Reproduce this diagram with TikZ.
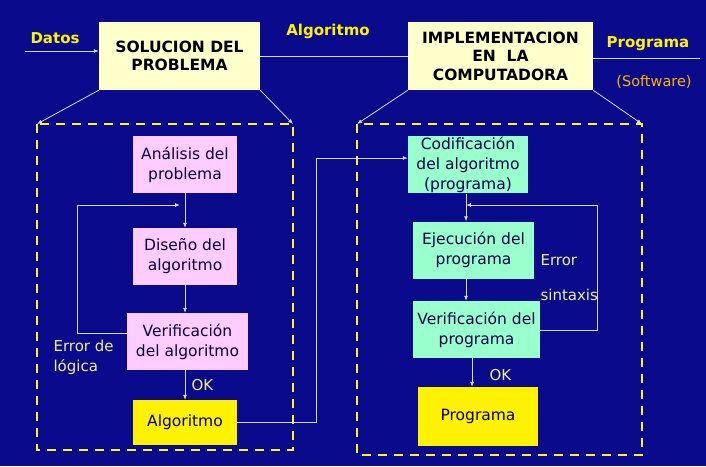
\documentclass[tikz,border=0pt]{standalone}
\usepackage{fontspec}
\setmainfont{DejaVu Sans}
\usetikzlibrary{arrows.meta}
\definecolor{bg}{HTML}{0A0A8C}
\definecolor{lab}{HTML}{EEEE99}
\definecolor{pinkb}{HTML}{FFCCFF}
\definecolor{greenb}{HTML}{99FFCC}
\definecolor{ylw}{HTML}{FFFFCC}
\tikzset{
 big/.style={draw=none,fill=ylw,minimum width=#1,minimum height=68pt,align=center,font=\bfseries\fontsize{15.5}{18.5}\selectfont,text=black,inner sep=1pt},
 pk/.style={fill=pinkb,minimum width=104pt,minimum height=57pt,align=center,font=\fontsize{15.5}{20}\selectfont,text=black!70!blue,inner sep=1pt},
 gr/.style={fill=greenb,minimum height=57pt,align=center,font=\fontsize{15.5}{20}\selectfont,text=black!70!blue,inner sep=1pt},
 ln/.style={draw=white!85!blue,line width=0.8pt},
 ar/.style={ln,-{Latex[length=5pt,width=4pt]}},
 dsh/.style={draw=yellow!90!white,line width=2pt,dash pattern=on 9pt off 7pt},
 lbl/.style={text=lab,font=\fontsize{15}{20}\selectfont,anchor=west},
 hd/.style={text=yellow,font=\bfseries\fontsize{15}{18}\selectfont}
}
\begin{document}
\begin{tikzpicture}[x=1pt,y=-1pt]
\fill[bg] (0,0) rectangle (706,466);
\useasboundingbox (0,0) rectangle (706,466);
% top boxes
\node[big=161pt] (sol) at (179.5,56) {SOLUCION DEL\\PROBLEMA};
\node[big=185pt] (imp) at (500.5,56) {IMPLEMENTACION\\EN\ \ LA\\COMPUTADORA};
\node[hd] (datos) at (55,38) {Datos};
\node[hd] (alg) at (328,31) {Algoritmo};
\node[hd] (prog) at (648,44) {Programa};
\node[text=orange!60!yellow,font=\fontsize{14.5}{17}\selectfont] (soft) at (654,82) {(Software)};
\coordinate (din) at (25,51);
\coordinate (pout) at (700,58);
\draw[ar] (din) -- (sol.west|-din);
\draw[ln] (sol.east|-0,56) -- (imp.west|-0,56);
\draw[ln] (imp.east|-0,58) -- (pout);
% dashed regions
\coordinate (l1) at (37,124); \coordinate (l2) at (293,124);
\coordinate (r1) at (357,124); \coordinate (r2) at (642,124);
\draw[ar] (sol.south west) -- (l1);
\draw[ar] (sol.south east) -- (l2);
\draw[ar] (imp.south west) -- (r1);
\draw[ar] (imp.south east) -- (r2);
\draw[dsh] (37,124) rectangle (293,450);
\draw[dsh] (357,124) rectangle (642,455);
% left column
\node[pk] (an) at (185,164.5) {Análisis del\\problema};
\node[pk] (di) at (185,256.5) {Diseño del\\algoritmo};
\node[pk,minimum width=121pt] (ve) at (187.5,341.5) {Verificación\\del algoritmo};
\node[fill=yellow,minimum width=104pt,minimum height=45pt,font=\fontsize{15.5}{18}\selectfont,text=black!70!blue] (al) at (185,422.5) {Algoritmo};
\draw[ar] (an) -- (di);
\draw[ar] (di) -- (ve.north-|di);
\draw[ar] (ve.south-|al) -- (al);
\coordinate (lp1) at (77,333); \coordinate (lp2) at (77,205); \coordinate (lp3) at (180,205);
\draw[ar] (ve.west|-lp1) -- (lp1) -- (lp2) -- (lp3);
\node[lbl,align=left] (el) at (50,357) {Error de\\lógica};
\node[lbl] (ok1) at (188,385) {OK};
% right column
\node[gr,minimum width=120pt] (co) at (468,164.5) {Codificación\\del algoritmo\\(programa)};
\node[gr,minimum width=121pt] (ej) at (473.5,250) {Ejecución del\\programa};
\node[gr,minimum width=127pt] (vp) at (476.5,329.5) {Verificación del\\programa};
\node[fill=yellow,minimum width=120pt,minimum height=59pt,font=\fontsize{15.5}{18}\selectfont,text=black] (pr) at (478,416.5) {Programa};
\coordinate (x1) at (466,0);
\draw[ar] (co.south-|x1) -- (ej.north-|x1);
\draw[ar] (ej.south-|x1) -- (vp.north-|x1);
\coordinate (x2) at (472,0);
\draw[ar] (vp.south-|x2) -- (pr.north-|x2);
\coordinate (rp1) at (597,330); \coordinate (rp2) at (597,205); \coordinate (rp3) at (466,205);
\draw[ar] (vp.east|-rp1) -- (rp1) -- (rp2) -- (rp3);
\node[lbl] (er) at (537,260) {Error};
\node[lbl] (si) at (537,295) {sintaxis};
\node[lbl] (ok2) at (486,375) {OK};
% connector Algoritmo -> Codificación
\coordinate (c1) at (316,422); \coordinate (c2) at (316,158);
\draw[ar] (al.east|-c1) -- (c1) -- (c2) -- (co.west|-c2);
\end{tikzpicture}
\end{document}
